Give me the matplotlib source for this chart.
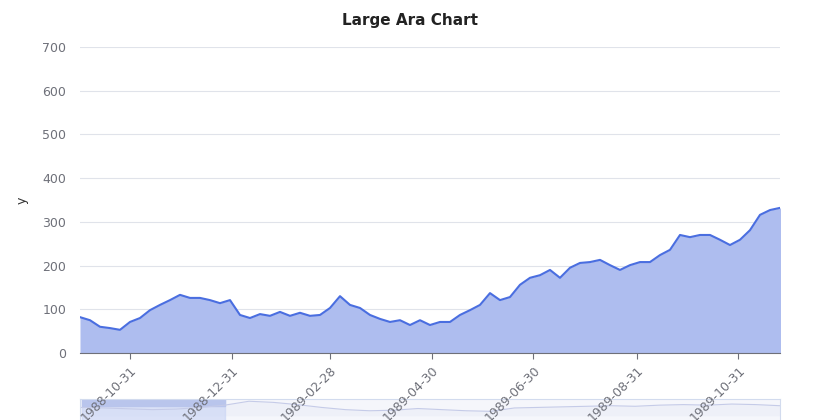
import matplotlib
matplotlib.use("Agg")
import matplotlib.pyplot as plt
import pandas as pd
import numpy as np

values = [82,75,60,57,53,71,80,98,110,121,133,126,126,121,114,121,87,80,89,85,
          94,85,92,85,87,103,130,110,103,87,78,71,75,64,75,64,71,71,87,98,
          110,137,121,128,156,172,178,190,172,195,206,208,213,201,190,201,208,208,224,236,
          270,265,270,270,259,247,259,281,316,327,332,316]
dates = pd.date_range("1988-10-01", periods=len(values), freq="6D")
tick_labels = ["1988-10-31","1988-12-31","1989-02-28","1989-04-30","1989-06-30","1989-08-31","1989-10-31"]
overview = [30,28,25,22,24,30,38,52,48,40,30,22,18,20,26,22,18,16,28,30,32,34,36,34,38,40,38,42,40,36]

fig = plt.figure(figsize=(8.21,4.2), dpi=100)
ax = fig.add_axes([80/821, 1-353/420, 700/821, 306/420])
ax.fill_between(dates, values, color="#aebdef", lw=0)
ax.plot(dates, values, color="#4a6ee0", lw=1.5)
ax.set_xlim(dates[0], pd.Timestamp("1989-11-25"))
ax.set_ylim(0,700)
ax.set_yticks(range(0,701,100))
ax.grid(axis="y", color="#e0e3ea", lw=0.8)
ax.set_axisbelow(True)
ax.patch.set_alpha(0)
ax.set_zorder(3)
for s in ["top","right","left"]:
    ax.spines[s].set_visible(False)
ax.spines["bottom"].set_color("#6e7079")
ax.tick_params(axis="y", length=0, labelsize=9, colors="#6e7079", pad=10)
ax.set_xticks([pd.Timestamp(t) for t in tick_labels])
ax.set_xticklabels(tick_labels, rotation=45, ha="right", rotation_mode="anchor", fontsize=9, color="#6e7079")
ax.tick_params(axis="x", length=4, color="#6e7079")
ax.set_ylabel("y", fontsize=9, color="#333333", labelpad=10)
fig.text(410/821, 1-21/420, "Large Ara Chart", ha="center", va="center", fontsize=11, fontweight="bold", color="#222222")

sl = fig.add_axes([80/821, -0.03, 700/821, 0.08])
sl.set_zorder(1)
xo = np.arange(len(overview))
sl.fill_between(xo, overview, color="#eef0f8", lw=0)
sl.plot(xo, overview, color="#c5cbe8", lw=0.8)
sl.set_xlim(0, len(overview)-1)
sl.set_ylim(-60,60)
sl.set_facecolor("#f5f6fb")
sl.set_xticks([]); sl.set_yticks([])
for s in sl.spines.values():
    s.set_color("#d2dbee")
sl.axvspan(0.1, 6.0, color="#c8d4f5", alpha=0.6)
sl.axvspan(0.1, 6.0, ymin=0.78, ymax=1.0, color="#b9c5ec")
fig.savefig("out.png", dpi=100)
